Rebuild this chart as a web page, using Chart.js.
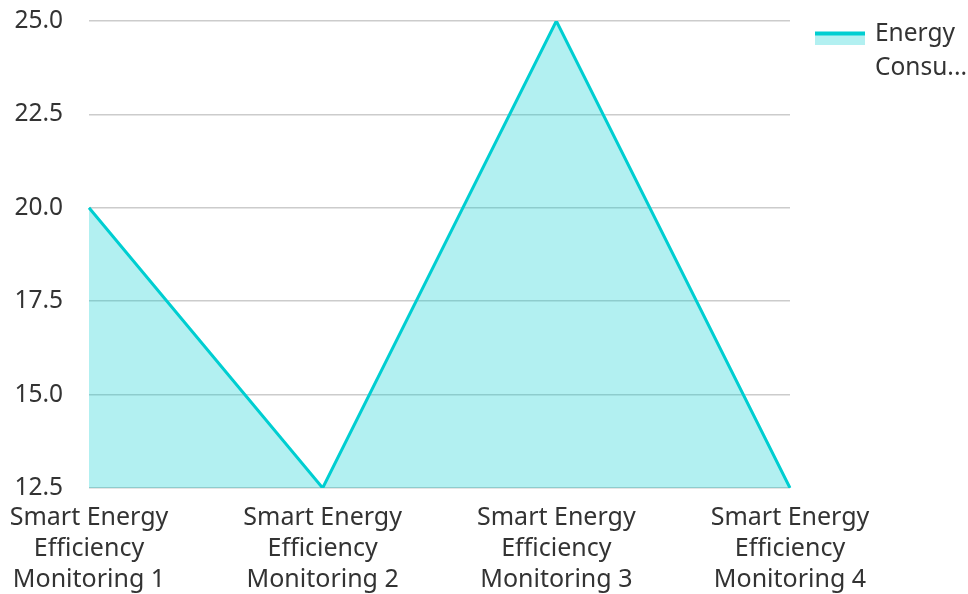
<!DOCTYPE html>
<html>
<head>
<meta charset="utf-8">
<script src="https://cdn.jsdelivr.net/npm/chart.js@4/dist/chart.umd.min.js"></script>
<style>
  html, body { margin: 0; padding: 0; background: #ffffff; }
  #wrap { width: 968px; height: 594px; position: relative; }
</style>
</head>
<body>
<div id="wrap"><canvas id="c" width="968" height="594"></canvas></div>
<script>
// Monitoring points and the measured energy consumption at each
const categories = [
  ["Smart Energy", "Efficiency", "Monitoring 1"],
  ["Smart Energy", "Efficiency", "Monitoring 2"],
  ["Smart Energy", "Efficiency", "Monitoring 3"],
  ["Smart Energy", "Efficiency", "Monitoring 4"]
];
const seriesName = "Energy Consumption";
const energyValues = [20, 12.5, 25, 12.5];
const yTicks = [12.5, 15.0, 17.5, 20.0, 22.5, 25.0];

const LINE = "rgb(0, 206, 209)";
const FILL = "rgba(0, 206, 209, 0.3)";
const FONT = "'Noto Sans', 'Open Sans', sans-serif";
const TEXT = "#333333";

// Right-hand legend: line + area swatch with a clipped two-line label
const sideLegend = {
  id: "sideLegend",
  afterDraw(chart) {
    const ctx = chart.ctx;
    ctx.save();
    ctx.fillStyle = FILL;
    ctx.fillRect(815, 34, 50, 11);
    ctx.strokeStyle = LINE;
    ctx.lineWidth = 4;
    ctx.beginPath();
    ctx.moveTo(815, 33.5);
    ctx.lineTo(865, 33.5);
    ctx.stroke();
    ctx.fillStyle = TEXT;
    ctx.font = "24.5px " + FONT;
    ctx.textBaseline = "middle";
    ctx.textAlign = "left";
    const words = seriesName.split(" ");
    ctx.fillText(words[0], 875, 34);
    ctx.fillText(words[1].slice(0, 5) + "...", 875, 68);
    ctx.restore();
  }
};

new Chart(document.getElementById("c"), {
  type: "line",
  data: {
    labels: categories,
    datasets: [{
      label: seriesName,
      data: energyValues,
      borderColor: LINE,
      backgroundColor: FILL,
      borderWidth: 3,
      fill: "origin",
      tension: 0,
      pointRadius: 0,
      pointHoverRadius: 0
    }]
  },
  options: {
    responsive: false,
    animation: false,
    devicePixelRatio: 1,
    layout: { padding: { top: 21, right: 178, bottom: 0, left: 0 } },
    plugins: {
      legend: { display: false },
      tooltip: { enabled: false }
    },
    scales: {
      x: {
        offset: false,
        grid: { display: false, drawTicks: false },
        border: { display: false },
        ticks: {
          color: TEXT,
          font: { family: FONT, size: 25, lineHeight: 1.24 },
          maxRotation: 0,
          autoSkip: false,
          padding: 14
        },
        afterFit(scale) {
          scale.height = 106;
          scale.paddingLeft = 0;
          scale.paddingRight = 0;
        }
      },
      y: {
        min: 12.5,
        max: 25,
        afterBuildTicks(scale) {
          scale.ticks = yTicks.map(v => ({ value: v }));
        },
        grid: { color: "#cccccc", lineWidth: 1.5, drawTicks: false },
        border: { display: false },
        ticks: {
          color: TEXT,
          font: { family: FONT, size: 24.5 },
          padding: 26,
          callback: v => Number(v).toFixed(1)
        },
        afterFit(scale) {
          scale.width = 89;
          scale.paddingTop = 0;
          scale.paddingBottom = 0;
        }
      }
    }
  },
  plugins: [sideLegend]
});
</script>
</body>
</html>
